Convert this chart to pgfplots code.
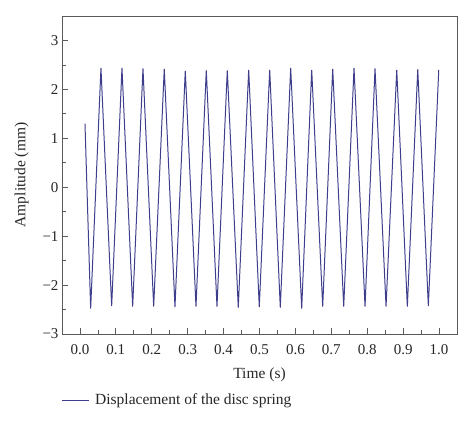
\documentclass[border=0pt]{standalone}
\usepackage{pgfplots}
\pgfplotsset{compat=1.18}
\usepackage{fontspec}
\setmainfont{Liberation Serif}
\definecolor{navy}{RGB}{62,62,140}
\definecolor{axgray}{RGB}{90,90,90}
\begin{document}
\begin{tikzpicture}
\useasboundingbox (-62pt,-92pt) rectangle (412pt,334pt);
\begin{axis}[
  at={(0,0)}, anchor=south west,
  scale only axis, width=395pt, height=318pt,
  xmin=-0.05, xmax=1.05, ymin=-3, ymax=3.5,
  xtick={0,0.1,...,1.0},
  xticklabels={0.0,0.1,0.2,0.3,0.4,0.5,0.6,0.7,0.8,0.9,1.0},
  ytick={-3,-2,...,3},
  yticklabels={−3,−2,−1,0,1,2,3},
  minor x tick num=1, minor y tick num=1,
  tick align=inside,
  xtick pos=bottom, ytick pos=left,
  major tick length=6pt, minor tick length=4pt,
  axis line style={axgray, line width=0.8pt},
  every tick/.style={axgray, line width=0.8pt},
  tick label style={font=\fontsize{15}{18}\selectfont, text=black!85},
  xticklabel style={yshift=-7pt},
  xlabel={Time (s)}, ylabel={Amplitude (mm)},
  label style={font=\fontsize{15.5}{18}\selectfont, text=black!85},
  xlabel style={yshift=-6pt},
  ylabel style={yshift=7pt},
  legend style={at={(0,-0.175)}, anchor=north west, xshift=-4pt,
    draw=none, fill=none,
    font=\fontsize{15.5}{18}\selectfont, text=black!85,
    legend cell align=left},
  legend image code/.code={\draw[navy, line width=1pt] (0pt,0pt) -- (27pt,0pt); \path (31pt,0pt);},
]
\addplot[navy, line width=1pt] coordinates {
(0.014,1.30)
(0.0298,-2.48) (0.0585,2.44)
(0.0883,-2.43) (0.1170,2.44)
(0.1468,-2.44) (0.1755,2.43)
(0.2053,-2.44) (0.2348,2.42)
(0.2646,-2.45) (0.2933,2.38)
(0.3231,-2.44) (0.3518,2.39)
(0.3816,-2.44) (0.4103,2.39)
(0.4409,-2.46) (0.4699,2.40)
(0.4994,-2.45) (0.5284,2.40)
(0.5579,-2.46) (0.5869,2.44)
(0.6175,-2.48) (0.6454,2.40)
(0.6760,-2.44) (0.7039,2.42)
(0.7345,-2.44) (0.7632,2.44)
(0.7939,-2.44) (0.8217,2.43)
(0.8524,-2.44) (0.8822,2.40)
(0.9117,-2.44) (0.9407,2.41)
(0.9702,-2.43) (0.9992,2.40)
};
\addlegendentry{Displacement of the disc spring}
\end{axis}
\end{tikzpicture}
\end{document}
